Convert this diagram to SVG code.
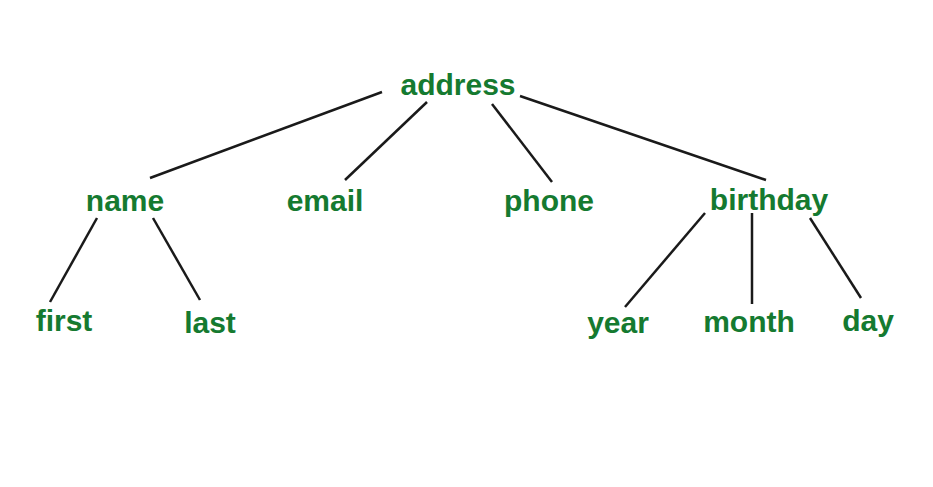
<svg xmlns="http://www.w3.org/2000/svg" width="933" height="487" viewBox="0 0 933 487">
<style>
text{font-family:"Liberation Sans",Arial,sans-serif;font-weight:bold;font-size:30px;fill:#157a30;text-anchor:middle}
line{stroke:#1a1a1a;stroke-width:2.5}
</style>
<rect width="933" height="487" fill="#fff"/>
<g id="connectors">
<line x1="382" y1="92" x2="150" y2="178"/>
<line x1="427" y1="102" x2="345" y2="180"/>
<line x1="492" y1="104" x2="552" y2="182"/>
<line x1="520" y1="96" x2="766" y2="180"/>
<line x1="97" y1="218" x2="50" y2="302"/>
<line x1="153" y1="218" x2="200" y2="300"/>
<line x1="705" y1="213" x2="625" y2="307"/>
<line x1="752" y1="213" x2="752" y2="304"/>
<line x1="810" y1="218" x2="861" y2="298"/>
</g>
<g id="address"><text x="458" y="95">address</text></g>
<g id="name"><text x="125" y="211">name</text></g>
<g id="email"><text x="325" y="211">email</text></g>
<g id="phone"><text x="549" y="211">phone</text></g>
<g id="birthday"><text x="769" y="210">birthday</text></g>
<g id="first"><text x="64" y="331">first</text></g>
<g id="last"><text x="210" y="333">last</text></g>
<g id="year"><text x="618" y="333">year</text></g>
<g id="month"><text x="749" y="332">month</text></g>
<g id="day"><text x="868" y="331">day</text></g>
</svg>
